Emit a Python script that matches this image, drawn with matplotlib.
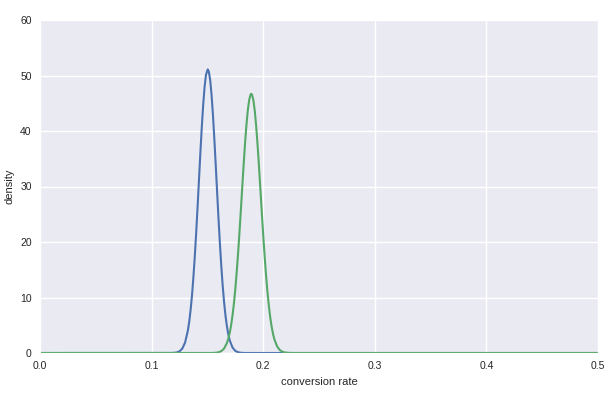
import matplotlib
matplotlib.use('Agg')
import matplotlib.pyplot as plt
import seaborn as sns

# posterior density curves
rate_a = [0.0, 0.1175, 0.1200, 0.1225, 0.1250, 0.1275, 0.1300, 0.1325,
          0.13375, 0.1350, 0.13625, 0.1375, 0.13875, 0.1400, 0.14125,
          0.1425, 0.14375, 0.1450, 0.14625, 0.1475, 0.14875, 0.1503,
          0.15125, 0.1525, 0.15375, 0.1550, 0.15625, 0.1575, 0.15875,
          0.1600, 0.16125, 0.1625, 0.16375, 0.1650, 0.16625, 0.1675,
          0.16875, 0.1700, 0.1725, 0.1750, 0.1775, 0.1800, 0.1825, 0.1850, 0.5]
density_a = [0.0, 0.01, 0.03, 0.10, 0.30, 0.79, 1.88, 4.04,
             5.69, 7.83, 10.50, 13.76, 17.55, 21.84, 26.50,
             31.40, 36.24, 40.80, 44.80, 47.99, 50.13, 51.10,
             50.73, 49.17, 46.45, 42.80, 38.48, 33.74, 28.84,
             24.04, 19.56, 15.51, 11.99, 9.05, 6.66, 4.78,
             3.35, 2.28, 0.99, 0.38, 0.14, 0.04, 0.01, 0.0, 0.0]

rate_b = [0.0, 0.1525, 0.1550, 0.1575, 0.1600, 0.1625, 0.1650, 0.1675,
          0.16875, 0.1700, 0.17125, 0.1725, 0.17375, 0.1750, 0.17625,
          0.1775, 0.17875, 0.1800, 0.18125, 0.1825, 0.18375, 0.1850,
          0.18625, 0.1875, 0.18875, 0.1893, 0.1900, 0.19125, 0.1925,
          0.19375, 0.1950, 0.19625, 0.1975, 0.19875, 0.2000, 0.20125,
          0.2025, 0.20375, 0.2050, 0.20625, 0.2075, 0.20875, 0.2100,
          0.2125, 0.2150, 0.2175, 0.2200, 0.2225, 0.2250, 0.2300, 0.5]
density_b = [0.0, 0.005, 0.015, 0.05, 0.13, 0.34, 0.82, 1.80,
             2.58, 3.63, 5.01, 6.74, 8.91, 11.49, 14.54,
             17.97, 21.79, 25.81, 29.97, 34.02, 37.81, 41.14,
             43.81, 45.67, 46.60, 46.70, 46.54, 45.50, 43.53,
             40.77, 37.38, 33.53, 29.45, 25.33, 21.30, 17.53,
             14.14, 11.16, 8.62, 6.51, 4.82, 3.49, 2.47,
             1.17, 0.51, 0.20, 0.07, 0.025, 0.008, 0.0, 0.0]

sns.set_style('darkgrid')
plt.rcParams['font.family'] = ['Liberation Sans', 'DejaVu Sans']

fig = plt.figure(figsize=(6.11, 3.93), dpi=100)
ax = fig.add_axes([40 / 611, 40 / 393, 558 / 611, 333 / 393])

ax.plot(rate_a, density_a, color='#4C72B0', lw=1.5)
ax.plot(rate_b, density_b, color='#55A868', lw=1.5)

ax.set_xlim(0, 0.5)
ax.set_ylim(0, 60)
ax.set_xticks([0.0, 0.1, 0.2, 0.3, 0.4, 0.5])
ax.set_yticks([0, 10, 20, 30, 40, 50, 60])
ax.tick_params(length=0, pad=6, labelsize=7.5, labelcolor='#262626')
ax.set_xlabel('conversion rate', fontsize=8, color='#262626', labelpad=4)
ax.set_ylabel('density', fontsize=8, color='#262626', labelpad=4)
ax.grid(color='white', lw=1)

fig.savefig('out.png', dpi=100)
